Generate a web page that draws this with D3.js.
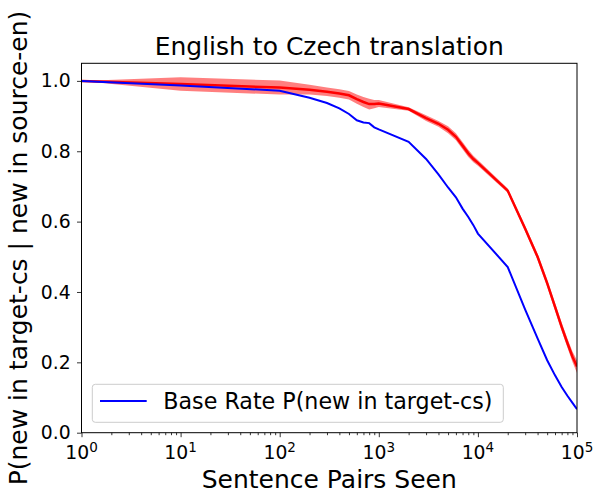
<!DOCTYPE html>
<html>
<head>
<meta charset="utf-8">
<script src="https://cdn.jsdelivr.net/npm/d3@7"></script>
<style>
  body { margin: 0; background: #fff; }
  text { font-family: "DejaVu Sans", sans-serif; fill: #000; }
</style>
</head>
<body>
<script>
// sentence pairs seen (x samples)
const pairs = [1, 10, 100, 200, 300, 400, 500, 600, 700, 800, 900, 1000,
  2000, 3000, 4000, 5000, 6000, 7000, 8000, 9000, 10000,
  20000, 30000, 40000, 50000, 60000, 70000, 80000, 90000, 100000];

// blue: base rate
const baseRate = [1.0, 0.987, 0.972, 0.952, 0.937, 0.922, 0.906, 0.888, 0.882, 0.880, 0.868, 0.862,
  0.827, 0.778, 0.734, 0.697, 0.669, 0.637, 0.613, 0.590, 0.566,
  0.471, 0.350, 0.268, 0.206, 0.163, 0.130, 0.105, 0.085, 0.067];

// red: mean and band
const targetMean = [1.0, 0.991, 0.981, 0.975, 0.969, 0.964, 0.959, 0.948, 0.940, 0.934, 0.934, 0.936,
  0.920, 0.894, 0.878, 0.861, 0.841, 0.816, 0.794, 0.778, 0.767,
  0.688, 0.580, 0.500, 0.425, 0.358, 0.301, 0.255, 0.216, 0.188];
const targetLo = [1.0, 0.972, 0.961, 0.961, 0.957, 0.952, 0.947, 0.935, 0.926, 0.919, 0.922, 0.926,
  0.915, 0.886, 0.870, 0.851, 0.831, 0.806, 0.784, 0.769, 0.759,
  0.682, 0.572, 0.491, 0.415, 0.347, 0.289, 0.242, 0.201, 0.170];
const targetHi = [1.0, 1.010, 1.001, 0.989, 0.981, 0.976, 0.971, 0.961, 0.954, 0.949, 0.946, 0.946,
  0.925, 0.902, 0.886, 0.871, 0.851, 0.826, 0.804, 0.787, 0.775,
  0.694, 0.588, 0.509, 0.435, 0.369, 0.313, 0.268, 0.231, 0.206];

const yTicks = [0.0, 0.2, 0.4, 0.6, 0.8, 1.0];
const xTicks = [1, 10, 100, 1000, 10000, 100000];

const [w, h] = [604, 504];
const m = {left: 81.5, right: 577, top: 63.3, bottom: 432.7};

const svg = d3.select('body').append('svg')
  .attr('width', w)
  .attr('height', h);

const x = d3.scaleLog().domain([1, 100000]).range([m.left, m.right]);
const y = d3.scaleLinear().domain([0, 1.05]).range([m.bottom, m.top]);

const rows = pairs.map((p, i) => ({p, b: baseRate[i], mu: targetMean[i], lo: targetLo[i], hi: targetHi[i]}));

svg.append('clipPath').attr('id', 'clip')
  .append('rect')
  .attr('x', m.left).attr('y', m.top)
  .attr('width', m.right - m.left).attr('height', m.bottom - m.top);

const plot = svg.append('g').attr('clip-path', 'url(#clip)');

// band
plot.append('path')
  .datum(rows)
  .attr('fill', 'red')
  .attr('fill-opacity', 0.5)
  .attr('d', d3.area().x(d => x(d.p)).y0(d => y(d.lo)).y1(d => y(d.hi)));

plot.append('path')
  .datum(rows)
  .attr('fill', 'none')
  .attr('stroke', 'red')
  .attr('stroke-width', 2.5)
  .attr('d', d3.line().x(d => x(d.p)).y(d => y(d.mu)));

plot.append('path')
  .datum(rows)
  .attr('fill', 'none')
  .attr('stroke', 'blue')
  .attr('stroke-width', 2)
  .attr('d', d3.line().x(d => x(d.p)).y(d => y(d.b)));

// axes
const minorTicks = [];
for (let e = 0; e < 5; e++) for (let k = 2; k < 10; k++) minorTicks.push(k * Math.pow(10, e));

const xg = svg.append('g').attr('transform', `translate(0,${m.bottom})`);
xg.call(d3.axisBottom(x).tickValues(minorTicks).tickSize(2.5).tickFormat(''));
xg.append('g').call(d3.axisBottom(x).tickValues(xTicks).tickSize(4.5).tickFormat(''));
xg.selectAll('.domain').remove();
xg.selectAll('line').attr('stroke', '#000').attr('stroke-width', 0.8);

const xl = svg.append('g');
xTicks.forEach(v => {
  const t = xl.append('text')
    .attr('x', x(v))
    .attr('y', 459.3)
    .attr('text-anchor', 'middle')
    .attr('font-size', '18.8px');
  t.append('tspan').text('10');
  t.append('tspan').attr('dy', -7).attr('font-size', '13.5px').text(Math.round(Math.log10(v)));
});

const yg = svg.append('g').attr('transform', `translate(${m.left},0)`);
yg.call(d3.axisLeft(y).tickValues(yTicks).tickSize(4.5).tickPadding(6.3).tickFormat(d3.format('.1f')));
yg.selectAll('.domain').remove();
yg.selectAll('line').attr('stroke', '#000').attr('stroke-width', 0.8);
yg.selectAll('text').attr('font-size', '18.8px').attr('font-family', '"DejaVu Sans", sans-serif');

// frame
svg.append('rect')
  .attr('x', m.left).attr('y', m.top)
  .attr('width', m.right - m.left).attr('height', m.bottom - m.top)
  .attr('fill', 'none').attr('stroke', '#000').attr('stroke-width', 1);

// titles
svg.append('text')
  .attr('x', (m.left + m.right) / 2)
  .attr('y', 55)
  .attr('text-anchor', 'middle')
  .attr('font-size', '25px')
  .text('English to Czech translation');

svg.append('text')
  .attr('x', (m.left + m.right) / 2)
  .attr('y', 488.3)
  .attr('text-anchor', 'middle')
  .attr('font-size', '25px')
  .text('Sentence Pairs Seen');

svg.append('text')
  .attr('transform', `translate(27,${(m.top + m.bottom) / 2}) rotate(-90)`)
  .attr('text-anchor', 'middle')
  .attr('font-size', '25px')
  .text('P(new in target-cs | new in source-en)');

// legend
const lg = svg.append('g');
lg.append('rect')
  .attr('x', 92.3).attr('y', 384.3)
  .attr('width', 411).attr('height', 38)
  .attr('rx', 3)
  .attr('fill', 'white').attr('fill-opacity', 0.8)
  .attr('stroke', '#ccc').attr('stroke-width', 1);
lg.append('line')
  .attr('x1', 100).attr('x2', 146.7)
  .attr('y1', 401).attr('y2', 401)
  .attr('stroke', 'blue').attr('stroke-width', 2);
lg.append('text')
  .attr('x', 163.3).attr('y', 408.5)
  .attr('font-size', '22.2px')
  .text('Base Rate P(new in target-cs)');
</script>
</body>
</html>
